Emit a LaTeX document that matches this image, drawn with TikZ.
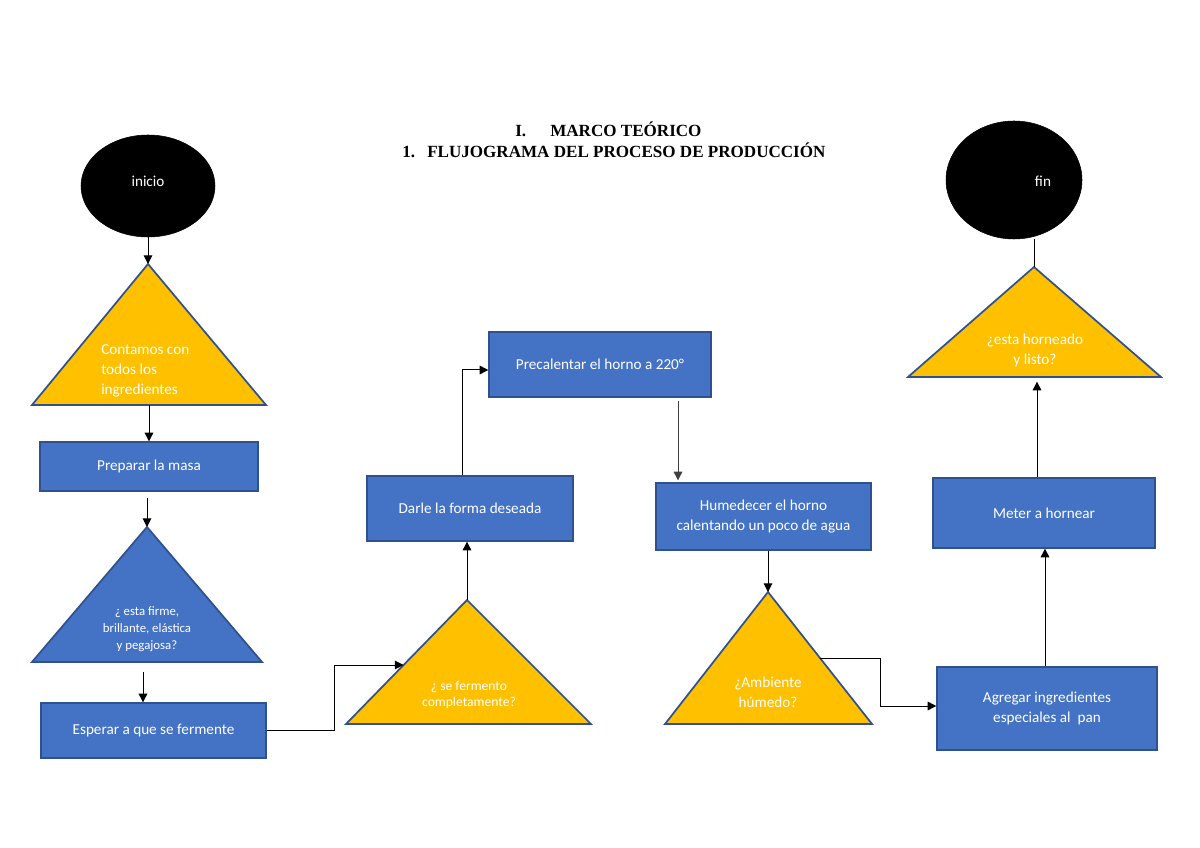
\documentclass[tikz,border=0pt]{standalone}
\usepackage{fontspec}
\setmainfont{Carlito}
\newfontfamily\titlefont{Liberation Serif}
\usetikzlibrary{arrows.meta,shapes.geometric}
\definecolor{boxblue}{HTML}{4472C4}
\definecolor{edgeblue}{HTML}{2F528F}
\definecolor{gold}{HTML}{FFC000}
\begin{document}
\begin{tikzpicture}[x=0.75pt,y=-0.75pt,
  proc/.style={draw=edgeblue, line width=1pt, fill=boxblue, text=white,
    font=\fontsize{11.4}{15}\selectfont, align=center, inner sep=0pt},
  tri/.style={draw=edgeblue, line width=1.3pt, line join=miter},
  yel/.style={tri, fill=gold},
  blu/.style={tri, fill=boxblue},
  lbl/.style={text=white, inner sep=0pt, align=center, font=\fontsize{11.4}{15}\selectfont},
  small/.style={lbl, font=\fontsize{9.6}{12.75}\selectfont},
  arr/.style={-{Triangle[length=6.5pt,width=6.5pt]}, line width=0.75pt, black},
  link/.style={line width=0.75pt, black},
  term/.style={ellipse, fill=black, draw=black, inner sep=0pt},
  ttl/.style={inner sep=0pt, anchor=base west, font=\titlefont\bfseries\fontsize{12.8}{15}\selectfont}
]
\useasboundingbox (0,0) rectangle (1200,848);

% title
\node[ttl] (tI) at (515,136.5) {I.};
\node[ttl] (tMarco) at (550,136.5) {MARCO TEÓRICO};
\node[ttl] (t1) at (402,157.7) {1.};
\node[ttl] (tFlujo) at (427,157.7) {FLUJOGRAMA DEL PROCESO DE PRODUCCIÓN};

% terminals
\node[term, minimum width=100.5pt, minimum height=76.5pt] (inicio) at (148,186) {};
\node[lbl] (inicioT) at (148,181) {inicio};
\node[term, minimum width=102pt, minimum height=88.5pt] (fin) at (1014,180) {};
\node[lbl] (finT) at (1043,181) {fin};

% triangle 1
\coordinate (t1a) at (148,264);
\coordinate (t1l) at (32,405);
\coordinate (t1r) at (266,405);
\coordinate (t1b) at (149,405);
\draw[yel] (t1a) -- (t1r) -- (t1l) -- cycle;
\node[lbl, align=left, anchor=west] (t1T) at (101,371) {Contamos con\\todos los\\ingredientes};

% triangle 2
\coordinate (t2a) at (147,527);
\coordinate (t2l) at (32,662);
\coordinate (t2r) at (262,662);
\coordinate (t2b) at (143,662);
\draw[blu] (t2a) -- (t2r) -- (t2l) -- cycle;
\node[small] (t2T) at (147,629) {¿ esta firme,\\brillante, elástica\\y pegajosa?};

% triangle 3
\coordinate (t3a) at (467,600);
\coordinate (t3l) at (346,724);
\coordinate (t3r) at (591,724);
\coordinate (t3in) at (403.5,665);
\draw[yel] (t3a) -- (t3r) -- (t3l) -- cycle;
\node[small, font=\fontsize{10.2}{12}\selectfont] (t3T) at (469,695) {¿ se fermento\\completamente?};

% triangle 4
\coordinate (t4a) at (768,592);
\coordinate (t4l) at (665,724);
\coordinate (t4r) at (872,724);
\coordinate (t4out) at (820,658);
\draw[yel] (t4a) -- (t4r) -- (t4l) -- cycle;
\node[lbl] (t4T) at (768,692) {¿Ambiente\\húmedo?};

% triangle 5
\coordinate (t5a) at (1034,267);
\coordinate (t5l) at (908,377);
\coordinate (t5r) at (1161,377);
\coordinate (t5b) at (1037,377);
\draw[yel] (t5a) -- (t5r) -- (t5l) -- cycle;
\node[lbl] (t5T) at (1035,350) {¿esta horneado\\y listo?};

% process boxes
\node[proc, minimum width=163.5pt, minimum height=36.75pt] (B1) at (149,466.5) {Preparar la masa};
\node[proc, minimum width=168.75pt, minimum height=41.25pt] (B2) at (153.5,730.5) {Esperar a que se fermente};
\node[proc, minimum width=154.5pt, minimum height=48.75pt] (B3) at (470,508.5) {Darle la forma deseada};
\node[proc, minimum width=166.5pt, minimum height=48.75pt] (B4) at (600,364.5) {Precalentar el horno a 220°};
\node[proc, minimum width=161.25pt, minimum height=50.25pt] (B5) at (763.5,516.5) {Humedecer el horno\\calentando un poco de agua};
\node[proc, minimum width=165pt, minimum height=62.25pt] (B6) at (1047,708.5) {Agregar ingredientes\\especiales al~ pan};
\node[proc, minimum width=166.5pt, minimum height=52.5pt] (B7) at (1044,513) {Meter a hornear};

% connectors
\draw[arr] (inicio.south -| t1a) -- (t1a);
\draw[arr] (t1b) -- (t1b |- B1.north);
\draw[arr] ([yshift=-4.5pt]B1.south -| t2a) -- (t2a);
\draw[arr] ([yshift=-7.5pt]t2b) -- (t2b |- B2.north);
\draw[arr] (B2.east) -- (334,730.5) |- (t3in);
\draw[arr] (t3a) -- (t3a |- B3.south);
\draw[arr] (B3.north -| 462,0) |- (B4.west |- 0,370);
\draw[arr, draw=black!75] ([yshift=-2.5pt]B4.south -| 678,0) -- ([yshift=1.5pt]B5.north -| 678,0);
\draw[arr] (B5.south -| t4a) -- (t4a);
\draw[arr] (t4out) -| (880,706) -- (B6.west |- 0,706);
\draw[arr] (B6.north -| 1045,0) -- (B7.south -| 1045,0);
\draw[arr] (B7.north -| t5b) -- ([yshift=-3.5pt]t5b);
\draw[link] (fin.south -| t5a) -- (t5a);
\end{tikzpicture}
\end{document}
